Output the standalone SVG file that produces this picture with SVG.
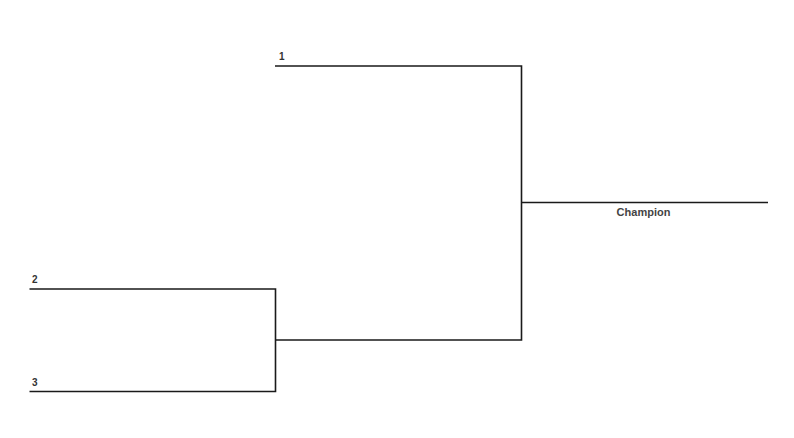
<svg xmlns="http://www.w3.org/2000/svg" width="794" height="438" viewBox="0 0 794 438">
<style>
.ln{stroke:#1a1a1a;stroke-width:1.6;fill:none}
.lb{font-family:"Liberation Sans",Arial,sans-serif;font-size:10px;font-weight:bold;fill:#333}
.ch{font-family:"Liberation Sans",Arial,sans-serif;font-size:11px;font-weight:bold;fill:#444}
</style>
<rect width="794" height="438" fill="#fff"/>
<g id="connectors">
<path class="ln" d="M275,66 H521.5 V340 H275"/>
<path class="ln" d="M29.5,289 H275.5 V391.5 H29.5"/>
<path class="ln" d="M521,202.5 H768"/>
</g>
<g id="seed1"><text class="lb" x="279" y="60">1</text></g>
<g id="seed2"><text class="lb" x="32" y="283">2</text></g>
<g id="seed3"><text class="lb" x="32" y="386">3</text></g>
<g id="champion"><text class="ch" x="643.5" y="216" text-anchor="middle">Champion</text></g>
</svg>
